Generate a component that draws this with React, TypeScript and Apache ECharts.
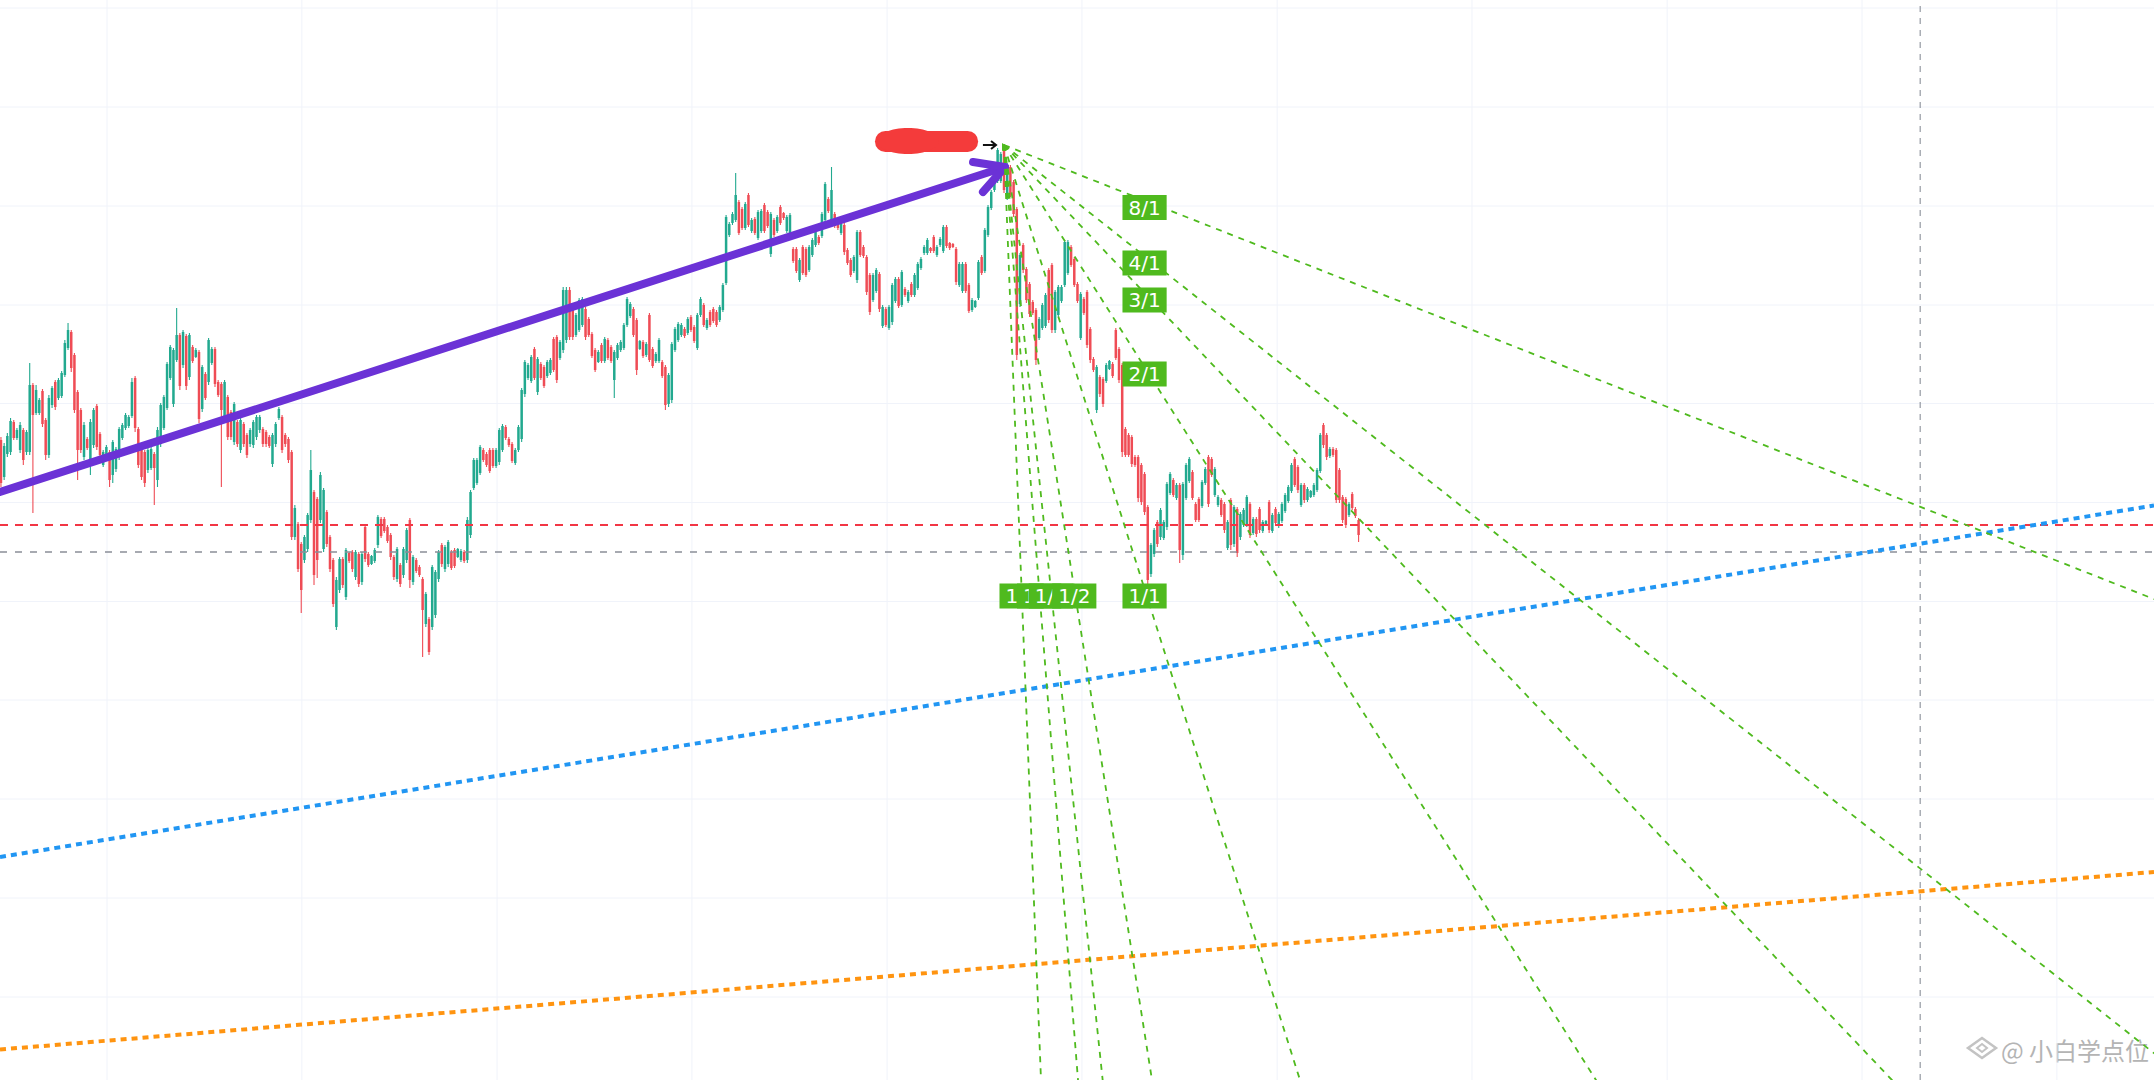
import React, { useEffect, useRef } from "react";
import * as echarts from "echarts";

// ---- candles: [open, close, low, high] ----
const candlesA = [
  [640,597,593,643],[603,634,600,637],[626,644,623,647],[628,659,625,662],[658,642,640,660],[642,650,640,652],[630,655,627,658],[650,620,615,652],[628,648,625,650],[628,695,625,717],
  [695,665,567,697],[667,690,665,695],[667,680,665,682],[689,656,653,691],[660,625,620,662],[625,682,622,685],[675,692,672,694],[698,673,670,700],[682,700,680,702],[684,707,682,709],
  [705,737,703,740],[732,750,730,757],[748,712,708,750],[725,670,667,727],[688,630,600,690],[670,630,627,672],[623,655,620,658],[641,632,630,643],[620,658,605,661],[635,670,632,672],
  [674,633,630,676],[646,625,622,648],[615,628,613,630],[622,633,620,635],[628,600,593,630],[605,638,597,640],[611,631,608,633],[623,651,620,653],[642,655,640,657],[652,665,650,667],
  [654,663,652,665],[664,698,662,702],[702,652,648,704],[651,615,612,653],[630,603,600,632],[628,597,593,630],[610,630,607,632],[612,631,610,633],[626,612,575,628],[600,650,593,653],
  [636,675,633,677],[652,683,650,685],[672,716,670,718],[702,733,700,735],[676,730,673,732],[720,745,718,772],[745,694,690,747],[715,748,712,750],[744,694,690,746],[703,745,700,747],
  [733,719,717,735],[723,730,722,732],[728,661,657,730],[671,713,668,715],[706,682,680,708],[698,740,695,742],[717,731,715,733],[731,696,693,733],[698,685,683,700],[696,670,593,698],
  [661,698,658,700],[683,643,640,685],[668,643,640,670],[638,676,635,678],[658,636,633,660],[630,660,627,662],[656,636,633,658],[645,625,622,647],[636,650,633,652],[635,658,632,660],
  [643,663,640,665],[650,663,647,665],[651,636,633,653],[648,636,633,650],[643,634,632,645],[616,645,613,647],[636,656,633,658],[662,671,660,673]
];
const candlesB = [
  [663,630,627,665],[645,636,633,647],[641,620,617,643],[628,543,540,630],[543,572,540,575],[556,511,508,558],[536,490,467,538],[520,543,517,545],[531,565,528,567],[560,610,557,630],
  [588,505,495,590],[581,520,502,583],[560,605,557,608],[531,590,528,592],[568,536,533,570],[543,511,508,545],[520,476,473,522],[453,500,450,503],[490,521,487,523],[521,495,492,523],
  [483,530,480,532],[527,519,517,528],[528,511,508,530],[503,528,500,530],[526,496,493,528],[498,526,495,528],[553,521,518,555],[526,515,513,528],[516,524,515,525],[519,530,517,532],
  [535,563,532,565],[561,544,542,563],[561,549,547,563],[553,539,537,555],[545,523,520,547],[523,503,500,525],[501,531,498,533],[515,496,493,517],[505,531,502,533],[520,550,517,552],
  [560,500,492,562],[498,523,495,525],[520,509,507,522],[513,505,503,515],[501,470,423,503],[456,486,453,488],[461,428,425,463],[453,513,450,515],[465,508,462,510],[501,528,498,530],
  [535,516,513,537],[511,533,508,535],[516,538,513,540],[528,512,510,530],[530,514,512,532],[523,531,522,532],[520,529,518,531],[528,519,517,530],[520,560,517,563],[545,588,542,590],
  [592,620,590,622],[597,620,595,622],[607,633,605,635],[630,620,618,632],[626,615,613,628],[630,609,607,632],[630,614,612,632],[614,630,612,632],[618,650,615,652],[630,654,628,656],
  [653,642,640,655],[641,635,633,643],[636,619,617,638],[617,630,615,632],[630,653,628,655],[641,690,638,692],[686,718,683,720],[702,715,700,717],[699,723,697,725],[731,702,700,733],
  [688,721,685,723],[716,702,700,718],[713,694,692,715],[704,718,702,720],[707,720,705,722],[741,710,708,743],[743,700,697,745],[722,738,720,740]
];
const candlesC = [
  [730,790,727,793],[740,790,737,793],[790,743,740,793],[771,743,740,773],[745,765,743,767],[750,780,748,782],[755,781,753,783],[771,743,740,773],[761,745,743,763],[746,724,722,748],
  [730,710,708,732],[718,728,717,730],[735,719,717,737],[719,741,717,743],[740,722,720,742],[733,719,717,735],[700,728,682,730],[722,735,720,737],[730,738,728,740],[732,755,730,757],
  [755,781,753,783],[764,776,762,778],[771,745,743,773],[760,710,705,762],[731,739,730,740],[738,724,722,740],[725,736,723,738],[765,720,718,767],[731,714,712,733],[719,726,717,728],
  [719,740,717,742],[718,704,702,720],[713,675,670,715],[676,705,673,707],[680,736,677,738],[730,751,728,753],[740,756,738,758],[745,755,743,757],[751,744,742,753],[747,761,745,763],
  [763,750,748,765],[753,739,737,755],[732,765,730,767],[765,781,763,783],[775,755,753,777],[752,760,750,762],[768,755,753,770],[771,759,757,773],[768,755,753,770],[760,773,758,775],
  [770,795,768,797],[797,863,795,865],[845,856,843,858],[857,866,855,868],[860,885,858,907],[878,847,845,880],[871,852,850,873],[852,876,850,878],[885,855,853,887],[849,860,847,862],
  [861,847,845,863],[842,868,840,870],[849,869,847,871],[875,849,847,877],[868,854,852,870],[826,866,823,868],[860,845,843,862],[849,863,847,865],[873,857,855,875],[867,862,860,868],
  [849,863,847,865],[847,865,845,867],[831,819,817,833],[831,809,807,833],[800,820,798,822],[833,807,805,835],[831,805,803,833],[810,833,808,835],[825,840,823,842],[835,851,833,853],
  [843,837,835,845],[844,866,842,868],[860,896,858,898],[881,869,867,883],[860,890,858,913],[866,854,852,868],[860,852,850,862],[847,856,845,858]
];
const candlesD = [
  [855,828,825,857],[830,817,815,832],[820,805,803,822],[809,823,807,825],[800,848,797,850],[848,825,823,850],[833,824,822,835],[823,788,785,825],[805,768,765,807],[780,805,778,807],
  [789,810,787,812],[806,771,768,808],[754,773,752,775],[771,755,753,773],[752,773,750,775],[758,795,755,797],[779,801,777,803],[801,774,772,803],[775,808,773,810],[791,785,783,793],
  [779,788,777,790],[796,785,783,798],[785,805,783,807],[792,816,790,818],[812,821,810,823],[827,833,825,835],[827,840,825,842],[832,829,827,833],[843,829,827,845],[825,833,823,835],
  [835,841,833,843],[829,853,827,855],[853,834,832,855],[837,832,830,838],[836,833,832,837],[831,798,795,833],[795,816,793,818],[789,816,787,818],[816,789,787,818],[795,769,767,797],
  [770,780,768,782],[773,779,772,780],[782,818,780,820],[823,807,805,825],[809,850,807,852],[845,873,843,875],[872,888,870,890],[890,898,888,900],[899,930,897,932],[899,926,897,928],
  [933,890,887,935],[882,915,880,917],[913,885,883,915],[898,866,863,900],[871,725,720,873],[776,825,773,827],[835,810,807,837],[811,780,777,813],[796,766,763,798],[778,767,765,780],
  [770,720,715,772],[742,761,740,763],[752,775,750,777],[754,785,752,787],[810,760,757,812],[815,750,747,817],[750,788,747,790],[765,793,763,795],[779,793,777,795],[795,838,793,840],
  [807,838,805,840],[833,815,813,835],[821,795,793,823],[796,779,777,798],[742,786,740,788],[781,767,765,783],[788,735,732,790],[751,720,717,753],[721,710,708,723],[670,713,667,715],
  [703,686,683,705],[701,676,673,703],[699,715,697,717],[711,719,710,720],[716,704,702,718],[750,722,720,752],[731,700,697,733]
];
const candlesE = [
  [715,628,623,717],[651,625,623,653],[645,625,623,647],[643,616,613,645],[623,615,613,625],[623,582,578,625],[615,578,575,617],[606,568,565,608],[573,500,493,575],[506,535,503,537],
  [526,550,523,552],[558,536,533,560],[543,570,540,572],[542,558,540,560],[553,596,550,598],[587,606,585,608],[600,585,583,602],[582,595,580,597],[595,530,517,597],[525,596,520,598],
  [582,615,580,617],[599,621,597,623],[608,582,580,610],[576,560,558,578],[581,560,558,583],[574,598,572,600],[597,611,595,613],[623,576,573,625],[621,605,603,623],[585,611,583,613],
  [575,583,573,585],[580,565,563,582],[576,550,547,578],[532,558,530,560],[580,535,530,582],[536,573,533,575],[571,527,523,573],[543,566,540,568],[555,570,553,572],[556,583,553,585],
  [576,545,542,578],[547,561,545,563],[561,546,543,563],[571,550,547,573],[549,558,547,560],[556,559,555,560],[578,550,547,580],[549,565,547,567],[571,557,555,573],[554,566,552,568],
  [559,576,557,578],[569,585,567,587],[579,593,577,595],[589,615,587,617],[621,595,593,623],[613,590,587,615],[575,595,573,597],[595,580,577,597],[580,591,578,593],[583,589,582,590],
  [585,595,583,597],[590,610,588,612],[609,645,607,647],[655,635,632,657],[645,623,620,647],[624,631,622,633],[631,625,623,633],[630,580,577,632],[610,580,577,612],[583,560,557,585],
  [581,555,552,583],[565,576,563,578],[586,572,570,588],[571,564,562,573],[560,545,538,562]
];
const candles = [...candlesA, ...candlesB, ...candlesC, ...candlesD, ...candlesE];

// ---- reference levels / drawings (data coordinates: bar index, price) ----
const priceGrid = [1072, 973, 874, 775, 676.5, 577.5, 478.5, 380, 281, 182, 83];
const timeGrid = [33.2, 94.2, 155.3, 216.3, 277.4, 338.4, 399.5, 460.5, 521.6, 582.6, 643.6];
const redLevel = 555;
const grayLevel = 528;
const verticalMarker = 600.8;
const blueTrend = [[-0.3, 223], [674, 574.5]];
const orangeTrend = [[-0.3, 30.5], [674, 208]];
const purpleTrend = [[-0.3, 588], [314.3, 913]];
const purpleHead = [[304.3, 918], [314.3, 913], [307.4, 888]];
const gannOrigin = [314, 935];
const gannUnit = [358, 491];
const gannLevels = [[8, 1], [4, 1], [3, 1], [2, 1], [1, 1], [1, 2], [1, 3], [1, 4], [1, 8]];
const redactBox = [[273.6, 951], [305.9, 927]];
const pointerArrow = [[307.4, 935], [311.5, 935]];
const watermarkText = "@ 小白学点位";

const X_MIN = -0.3;
const X_MAX = 674;
const UP = "#22a98f";
const DOWN = "#ef4c55";
const GREEN = "#4fba1e";

export default function App() {
  const ref = useRef<HTMLDivElement>(null);
  useEffect(() => {
    if (!ref.current) return;
    const chart = echarts.init(ref.current, null, { renderer: "svg" });

    const seg = (data: any, lineStyle: any, z: number) => ({
      type: "line",
      data,
      symbol: "none",
      silent: true,
      clip: true,
      lineStyle,
      z,
    });

    const series: any[] = [];
    priceGrid.forEach((v) => series.push(seg([[X_MIN, v], [X_MAX, v]], { color: "#f0f3fa", width: 1 }, 1)));
    timeGrid.forEach((t) => series.push(seg([[t, 0], [t, 1080]], { color: "#f0f3fa", width: 1 }, 1)));

    series.push({
      type: "custom",
      z: 2,
      silent: true,
      data: candles.map((c, i) => [i, c[0], c[1], c[2], c[3]]),
      encode: { x: 0, y: [1, 2, 3, 4] },
      renderItem: (params: any, api: any) => {
        const i = api.value(0);
        const o = api.value(1), c = api.value(2), l = api.value(3), h = api.value(4);
        const pO = api.coord([i, o]);
        const pC = api.coord([i, c]);
        const pL = api.coord([i, l]);
        const pH = api.coord([i, h]);
        const color = c >= o ? UP : DOWN;
        const x = pO[0];
        const top = Math.min(pO[1], pC[1]);
        const bot = Math.max(pO[1], pC[1]);
        return {
          type: "group",
          children: [
            { type: "line", shape: { x1: x, y1: pH[1], x2: x, y2: pL[1] }, style: { stroke: color, lineWidth: 1.1 } },
            { type: "rect", shape: { x: x - 1.25, y: top, width: 2.5, height: Math.max(1, bot - top) }, style: { fill: color } },
          ],
        };
      },
    });

    series.push(seg([[X_MIN, grayLevel], [X_MAX, grayLevel]], { color: "#8a8f98", width: 1.5, type: [7, 8] }, 3));
    series.push(seg([[X_MIN, redLevel], [X_MAX, redLevel]], { color: "#f23645", width: 2, type: [8, 7] }, 3));
    series.push(seg([[verticalMarker, 0], [verticalMarker, 1080]], { color: "#7f858f", width: 1, type: [6, 6] }, 3));
    series.push(seg(blueTrend, { color: "#2196f3", width: 4, type: [6, 5] }, 4));
    series.push(seg(orangeTrend, { color: "#ff9410", width: 4, type: [6, 5] }, 4));
    series.push(seg(purpleTrend, { color: "#6b32d6", width: 8, cap: "round" }, 5));
    series.push(seg(purpleHead, { color: "#6b32d6", width: 8, cap: "round", join: "round" }, 5));

    const [ox, ov] = gannOrigin;
    const [ux, uv] = gannUnit;
    const k = (ov - uv) / (ux - ox);
    const FAR = 900;
    gannLevels.forEach(([n, d]) => {
      const s = (k * d) / n;
      series.push(seg([[ox, ov], [FAR, ov - s * (FAR - ox)]], { color: GREEN, width: 1.8, type: [6, 6] }, 6));
    });

    const upper = gannLevels.filter(([n, d]) => n >= d);
    const lower = gannLevels.filter(([n, d]) => n < d).sort((a, b) => b[1] - a[1]);
    const labelLevels = [...upper, ...lower];
    const labelTexts = labelLevels.map(([n, d]) => `${n}/${d}`);
    const labelPts = labelLevels.map(([n, d]) =>
      n >= d ? [ux, ov - ((ov - uv) * d) / n] : [ox + ((ux - ox) * n) / d, uv]
    );
    series.push({
      type: "custom",
      z: 7,
      silent: true,
      data: labelPts,
      encode: { x: 0, y: 1 },
      renderItem: (params: any, api: any) => {
        const p = api.coord([api.value(0), api.value(1)]);
        return {
          type: "text",
          x: p[0],
          y: p[1] + 7,
          z2: params.dataIndex,
          style: {
            text: labelTexts[params.dataIndex],
            fill: "#ffffff",
            backgroundColor: GREEN,
            padding: [3, 6, 2, 6],
            fontSize: 20,
            fontFamily: "DejaVu Sans",
            align: "center",
            verticalAlign: "middle",
          },
        };
      },
    });

    series.push({
      type: "custom",
      z: 8,
      silent: true,
      data: [gannOrigin],
      encode: { x: 0, y: 1 },
      renderItem: (params: any, api: any) => {
        const a = api.coord(redactBox[0]);
        const b = api.coord(redactBox[1]);
        const s = api.coord(pointerArrow[0]);
        const e = api.coord(pointerArrow[1]);
        const o = api.coord(gannOrigin);
        const h = b[1] - a[1];
        return {
          type: "group",
          children: [
            {
              type: "rect",
              shape: { x: a[0], y: a[1] + 2, width: b[0] - a[0], height: h - 3, r: 11 },
              style: { fill: "#f43b3b" },
            },
            {
              type: "ellipse",
              shape: { cx: a[0] + (b[0] - a[0]) * 0.32, cy: a[1] + h / 2, rx: (b[0] - a[0]) * 0.3, ry: h / 2 + 1 },
              style: { fill: "#f43b3b" },
            },
            {
              type: "polyline",
              shape: { points: [s, e] },
              style: { stroke: "#111", lineWidth: 2 },
            },
            {
              type: "polyline",
              shape: { points: [[e[0] - 5, e[1] - 4], e, [e[0] - 5, e[1] + 4]] },
              style: { stroke: "#111", lineWidth: 2, fill: "none" },
            },
            {
              type: "polygon",
              shape: { points: [[o[0] - 2, o[1] - 2], [o[0] + 6, o[1] + 3], [o[0] - 2, o[1] + 6]] },
              style: { fill: GREEN },
            },
          ],
        };
      },
    });

    const option: any = {
      animation: false,
      backgroundColor: "#ffffff",
      grid: { left: 0, right: 0, top: 0, bottom: 0 },
      xAxis: { type: "value", min: X_MIN, max: X_MAX, show: false },
      yAxis: { type: "value", min: 0, max: 1080, show: false },
      series,
      graphic: [
        {
          type: "group",
          z: 100,
          silent: true,
          children: [
            {
              type: "polygon",
              shape: { points: [[1968, 1048], [1982, 1038], [1996, 1048], [1982, 1058]] },
              style: { fill: "#ffffff", stroke: "#c3c3c3", lineWidth: 2.5 },
            },
            {
              type: "polygon",
              shape: { points: [[1977, 1048], [1982, 1044], [1987, 1048], [1982, 1052]] },
              style: { fill: "#ffffff", stroke: "#c3c3c3", lineWidth: 2 },
            },
            {
              type: "text",
              x: 2001,
              y: 1049,
              style: {
                text: watermarkText,
                fill: "#b4b4b4",
                fontSize: 24,
                fontFamily: "Noto Sans CJK SC",
                verticalAlign: "middle",
              },
            },
          ],
        },
      ],
    };
    chart.setOption(option);
    return () => chart.dispose();
  }, []);
  return (
    <div
      ref={ref}
      style={{ position: "fixed", left: 0, top: 0, width: 2154, height: 1080, background: "#fff" }}
    />
  );
}
